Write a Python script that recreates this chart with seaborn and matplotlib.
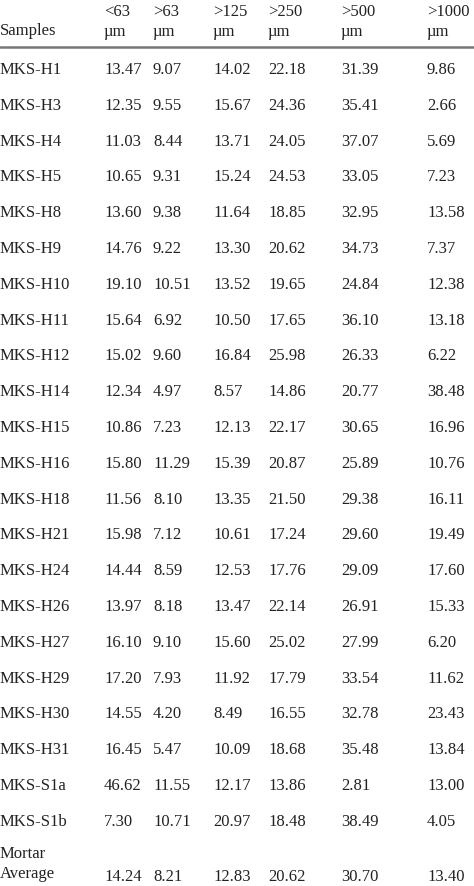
import seaborn as sns
import matplotlib.pyplot as plt

sns.set_theme(style="white")
plt.rcParams["font.family"] = ["Liberation Serif", "DejaVu Serif"]

# Table data
headers = ["<63\nµm", ">63\nµm", ">125\nµm", ">250\nµm", ">500\nµm", ">1000\nµm"]
samples = ["MKS-H1", "MKS-H3", "MKS-H4", "MKS-H5", "MKS-H8", "MKS-H9", "MKS-H10",
           "MKS-H11", "MKS-H12", "MKS-H14", "MKS-H15", "MKS-H16", "MKS-H18",
           "MKS-H21", "MKS-H24", "MKS-H26", "MKS-H27", "MKS-H29", "MKS-H30",
           "MKS-H31", "MKS-S1a", "MKS-S1b"]
lt63 = ["13.47", "12.35", "11.03", "10.65", "13.60", "14.76", "19.10", "15.64", "15.02",
        "12.34", "10.86", "15.80", "11.56", "15.98", "14.44", "13.97", "16.10", "17.20",
        "14.55", "16.45", "46.62", "7.30"]
gt63 = ["9.07", "9.55", "8.44", "9.31", "9.38", "9.22", "10.51", "6.92", "9.60", "4.97",
        "7.23", "11.29", "8.10", "7.12", "8.59", "8.18", "9.10", "7.93", "4.20", "5.47",
        "11.55", "10.71"]
gt125 = ["14.02", "15.67", "13.71", "15.24", "11.64", "13.30", "13.52", "10.50", "16.84",
         "8.57", "12.13", "15.39", "13.35", "10.61", "12.53", "13.47", "15.60", "11.92",
         "8.49", "10.09", "12.17", "20.97"]
gt250 = ["22.18", "24.36", "24.05", "24.53", "18.85", "20.62", "19.65", "17.65", "25.98",
         "14.86", "22.17", "20.87", "21.50", "17.24", "17.76", "22.14", "25.02", "17.79",
         "16.55", "18.68", "13.86", "18.48"]
gt500 = ["31.39", "35.41", "37.07", "33.05", "32.95", "34.73", "24.84", "36.10", "26.33",
         "20.77", "30.65", "25.89", "29.38", "29.60", "29.09", "26.91", "27.99", "33.54",
         "32.78", "35.48", "2.81", "38.49"]
gt1000 = ["9.86", "2.66", "5.69", "7.23", "13.58", "7.37", "12.38", "13.18", "6.22",
          "38.48", "16.96", "10.76", "16.11", "19.49", "17.60", "15.33", "6.20", "11.62",
          "23.43", "13.84", "13.00", "4.05"]
average = ["14.24", "8.21", "12.83", "20.62", "30.70", "13.40"]

columns = [lt63, gt63, gt125, gt250, gt500, gt1000]

# layout
col_x = [104, 153, 213, 268, 341, 427]
row0, step = 70, 35.8
fs = 12
color = "#222222"

fig = plt.figure(figsize=(4.74, 8.86), dpi=100)
ax = fig.add_axes([0, 0, 1, 1])
ax.set_xlim(0, 474)
ax.set_ylim(886, 0)
ax.axis("off")

ax.text(0, 31, "Samples", fontsize=fs, color=color, va="center")
for x, h in zip(col_x, headers):
    ax.text(x, 22, h, fontsize=fs, color=color, va="center", linespacing=1.3)
ax.axhline(47, color="#777777", lw=1.8)

for i, s in enumerate(samples):
    y = row0 + i * step
    ax.text(0, y, s, fontsize=fs, color=color, va="center")
    for x, col in zip(col_x, columns):
        ax.text(x, y, col[i], fontsize=fs, color=color, va="center")

y_avg = 877
ax.text(0, y_avg - 13, "Mortar\nAverage", fontsize=fs, color=color, va="center", linespacing=1.35)
for x, v in zip(col_x, average):
    ax.text(x, y_avg, v, fontsize=fs, color=color, va="center")

fig.savefig("out.png", dpi=100, facecolor="white")
